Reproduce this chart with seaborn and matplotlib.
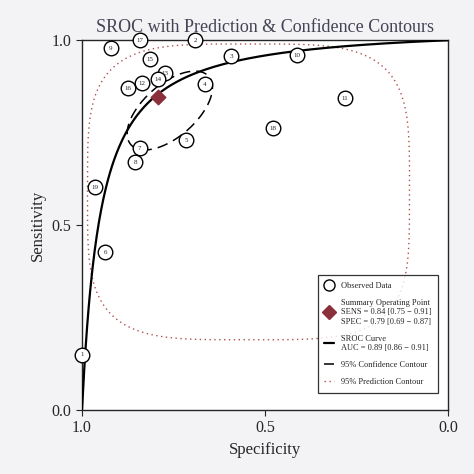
import numpy as np
import matplotlib
matplotlib.use("Agg")
import matplotlib.pyplot as plt
import seaborn as sns
import pandas as pd
from matplotlib.lines import Line2D

study = list(range(1, 20))
spec = [1.00, 0.69, 0.593, 0.664, 0.716, 0.937, 0.842, 0.855, 0.921, 0.413,
        0.281, 0.836, 0.773, 0.792, 0.814, 0.874, 0.842, 0.478, 0.964]
sens = [0.149, 1.00, 0.957, 0.881, 0.730, 0.427, 0.708, 0.670, 0.978, 0.959,
        0.843, 0.884, 0.911, 0.895, 0.949, 0.870, 1.00, 0.762, 0.603]
summ_spec, summ_sens = 0.792, 0.846
sroc_a, sroc_b = 3.15, 1.03
conf_center = (0.76, 0.81)
conf_major = (-0.10, 0.098)
conf_minor = (0.06, 0.042)
pred_center = (0.545, 0.59)
pred_radius = (0.44, 0.40)
pred_power = 4.0

sns.set_style("ticks")
plt.rcParams['font.family'] = ['Liberation Serif', 'DejaVu Serif']

fig = plt.figure(figsize=(4.74, 4.74), dpi=100, facecolor="#f3f3f5")
ax = fig.add_axes([0.173, 0.135, 0.772, 0.78])
ax.set_facecolor("white")

df = pd.DataFrame({"spec": spec, "sens": sens, "study": study})
sns.scatterplot(data=df, x="spec", y="sens", s=110, facecolor="white",
                edgecolor="black", linewidth=1.0, ax=ax, zorder=4, clip_on=False)
for _, r in df.iterrows():
    ax.text(r.spec, r.sens, str(int(r.study)), fontsize=5, ha="center", va="center", zorder=5)

fpr = np.linspace(1e-4, 1 - 1e-4, 500)
lg = sroc_a + sroc_b * np.log(fpr / (1 - fpr))
ax.plot(1 - fpr, 1 / (1 + np.exp(-lg)), color="black", lw=1.6, zorder=3)

t = np.linspace(0, 2 * np.pi, 200)
cx = conf_center[0] + conf_major[0] * np.cos(t) + conf_minor[0] * np.sin(t)
cy = conf_center[1] + conf_major[1] * np.cos(t) + conf_minor[1] * np.sin(t)
ax.plot(cx, cy, color="black", lw=1.1, ls=(0, (7, 4)), zorder=3)

c, s = np.cos(t), np.sin(t)
px = pred_center[0] + pred_radius[0] * np.sign(c) * np.abs(c) ** (2 / pred_power)
py = pred_center[1] + pred_radius[1] * np.sign(s) * np.abs(s) ** (2 / pred_power)
ax.plot(px, py, color="#b05050", lw=1.0, ls=(0, (1, 2.5)), zorder=2)

ax.scatter([summ_spec], [summ_sens], marker="D", s=55, color="#8b2f3a", zorder=6)

ax.set_xlim(1.0, 0.0)
ax.set_ylim(0.0, 1.0)
ax.set_xticks([1.0, 0.5, 0.0])
ax.set_yticks([0.0, 0.5, 1.0])
ax.tick_params(labelsize=11.5, direction="out", length=4)
ax.set_xlabel("Specificity", fontsize=12)
ax.set_ylabel("Sensitivity", fontsize=12)
ax.set_title("SROC with Prediction & Confidence Contours", fontsize=13, color="#444455", pad=6)
for sp in ax.spines.values():
    sp.set_linewidth(1.0)

handles = [
    Line2D([], [], marker="o", ls="", markerfacecolor="white", markeredgecolor="black", markersize=8),
    Line2D([], [], marker="D", ls="", color="#8b2f3a", markersize=7),
    Line2D([], [], color="black", lw=1.6),
    Line2D([], [], color="black", lw=1.1, ls=(0, (7, 4))),
    Line2D([], [], color="#b05050", lw=1.0, ls=(0, (1, 2.5))),
]
labels = [
    "Observed Data",
    "Summary Operating Point\nSENS = 0.84 [0.75 \u2212 0.91]\nSPEC = 0.79 [0.69 \u2212 0.87]",
    "SROC Curve\nAUC = 0.89 [0.86 \u2212 0.91]",
    "95% Confidence Contour",
    "95% Prediction Contour",
]
leg = ax.legend(handles, labels, loc="lower right", bbox_to_anchor=(0.985, 0.035),
                fontsize=6, handlelength=1.2, labelspacing=1.1, frameon=True,
                fancybox=False, edgecolor="black", borderpad=0.8)
leg.get_frame().set_linewidth(0.9)

fig.savefig("out.png", dpi=100, facecolor=fig.get_facecolor())
